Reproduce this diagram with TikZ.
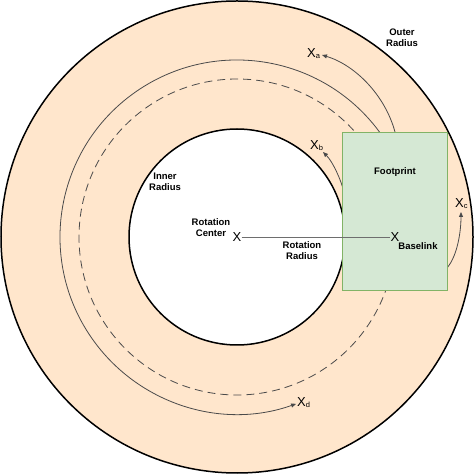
\documentclass[tikz,border=0pt]{standalone}
\usepackage{fontspec}
\setmainfont{Liberation Sans}
\usetikzlibrary{arrows.meta,calc}
\definecolor{peach}{HTML}{FFE6CC}
\definecolor{fpfill}{HTML}{D5E8D4}
\definecolor{fpdraw}{HTML}{82B366}
\definecolor{arcgray}{HTML}{4A4A4A}
\tikzset{
  lbl/.style={font=\fontsize{9.5}{11}\selectfont\bfseries, align=center, inner sep=0pt},
  bigx/.style={font=\fontsize{13}{13}\selectfont, inner sep=0pt},
  ptlbl/.style={inner sep=0pt, anchor=base west},
  motion/.style={draw=arcgray, line width=0.8pt, -{Triangle[length=5pt,width=4pt]}},
}
\newcommand{\ptname}[1]{{\fontsize{13}{13}\selectfont X}\raisebox{-1pt}{\fontsize{7.5}{7.5}\selectfont #1}}
\begin{document}
\begin{tikzpicture}[x=1pt,y=1pt]
\useasboundingbox (0,0) rectangle (474,474);
% discs
\coordinate (c) at (237,237);
\fill[peach] (c) circle[radius=236];
\draw[black, line width=1.5pt] (c) circle[radius=236];
\draw[black, line width=1.5pt, fill=white] (c) circle[radius=108];
% dashed rotation circle
\draw[arcgray, line width=0.8pt, dash pattern=on 8pt off 5pt] (c) circle[radius=158];
% main arc to X_d
\coordinate (sd) at ($(c)+(35:177)$);
\draw[motion] (sd) arc[start angle=35, end angle=289.5, radius=177] coordinate (td);
% arcs a, b, c
\coordinate (sa) at (395,342);
\coordinate (ta) at (322,419);
\draw[motion] (sa) .. controls (385,379) and (355,409) .. (ta);
\coordinate (sb) at (344,282);
\coordinate (tb) at (323,322);
\draw[motion] (sb) .. controls (341,294) and (333,312) .. (tb);
\coordinate (sc) at (447,206);
\coordinate (tc) at (461,262);
\draw[motion] (sc) .. controls (458,219) and (461,244) .. (tc);
% footprint
\node[draw=fpdraw, fill=fpfill, line width=0.8pt, minimum width=105pt, minimum height=158pt, inner sep=0pt] (fp) at (394.5,263) {};
\node[lbl] (fptxt) at (395,302) {Footprint};
% rotation radius line
\node[bigx] (rc) at (237,237) {X};
\node[bigx] (bl) at (395,237) {X};
\draw[draw=arcgray!80, line width=0.9pt] (rc.east) -- (bl.west);
% labels
\node[lbl] (rctxt) at (211,246.5) {Rotation\\Center};
\node[lbl] (rrtxt) at (302,223.5) {Rotation\\Radius};
\node[lbl] (bltxt) at (418,228) {Baselink};
\node[lbl] (irtxt) at (165,292.5) {Inner\\Radius};
\node[lbl] (ortxt) at (402,436.5) {Outer\\Radius};
% point names
\node[ptlbl] (xa) at (307,416) {\ptname{a}};
\node[ptlbl] (xb) at (310,324) {\ptname{b}};
\node[ptlbl] (xc) at (455,266) {\ptname{c}};
\node[ptlbl] (xd) at (297,67) {\ptname{d}};
\end{tikzpicture}
\end{document}
